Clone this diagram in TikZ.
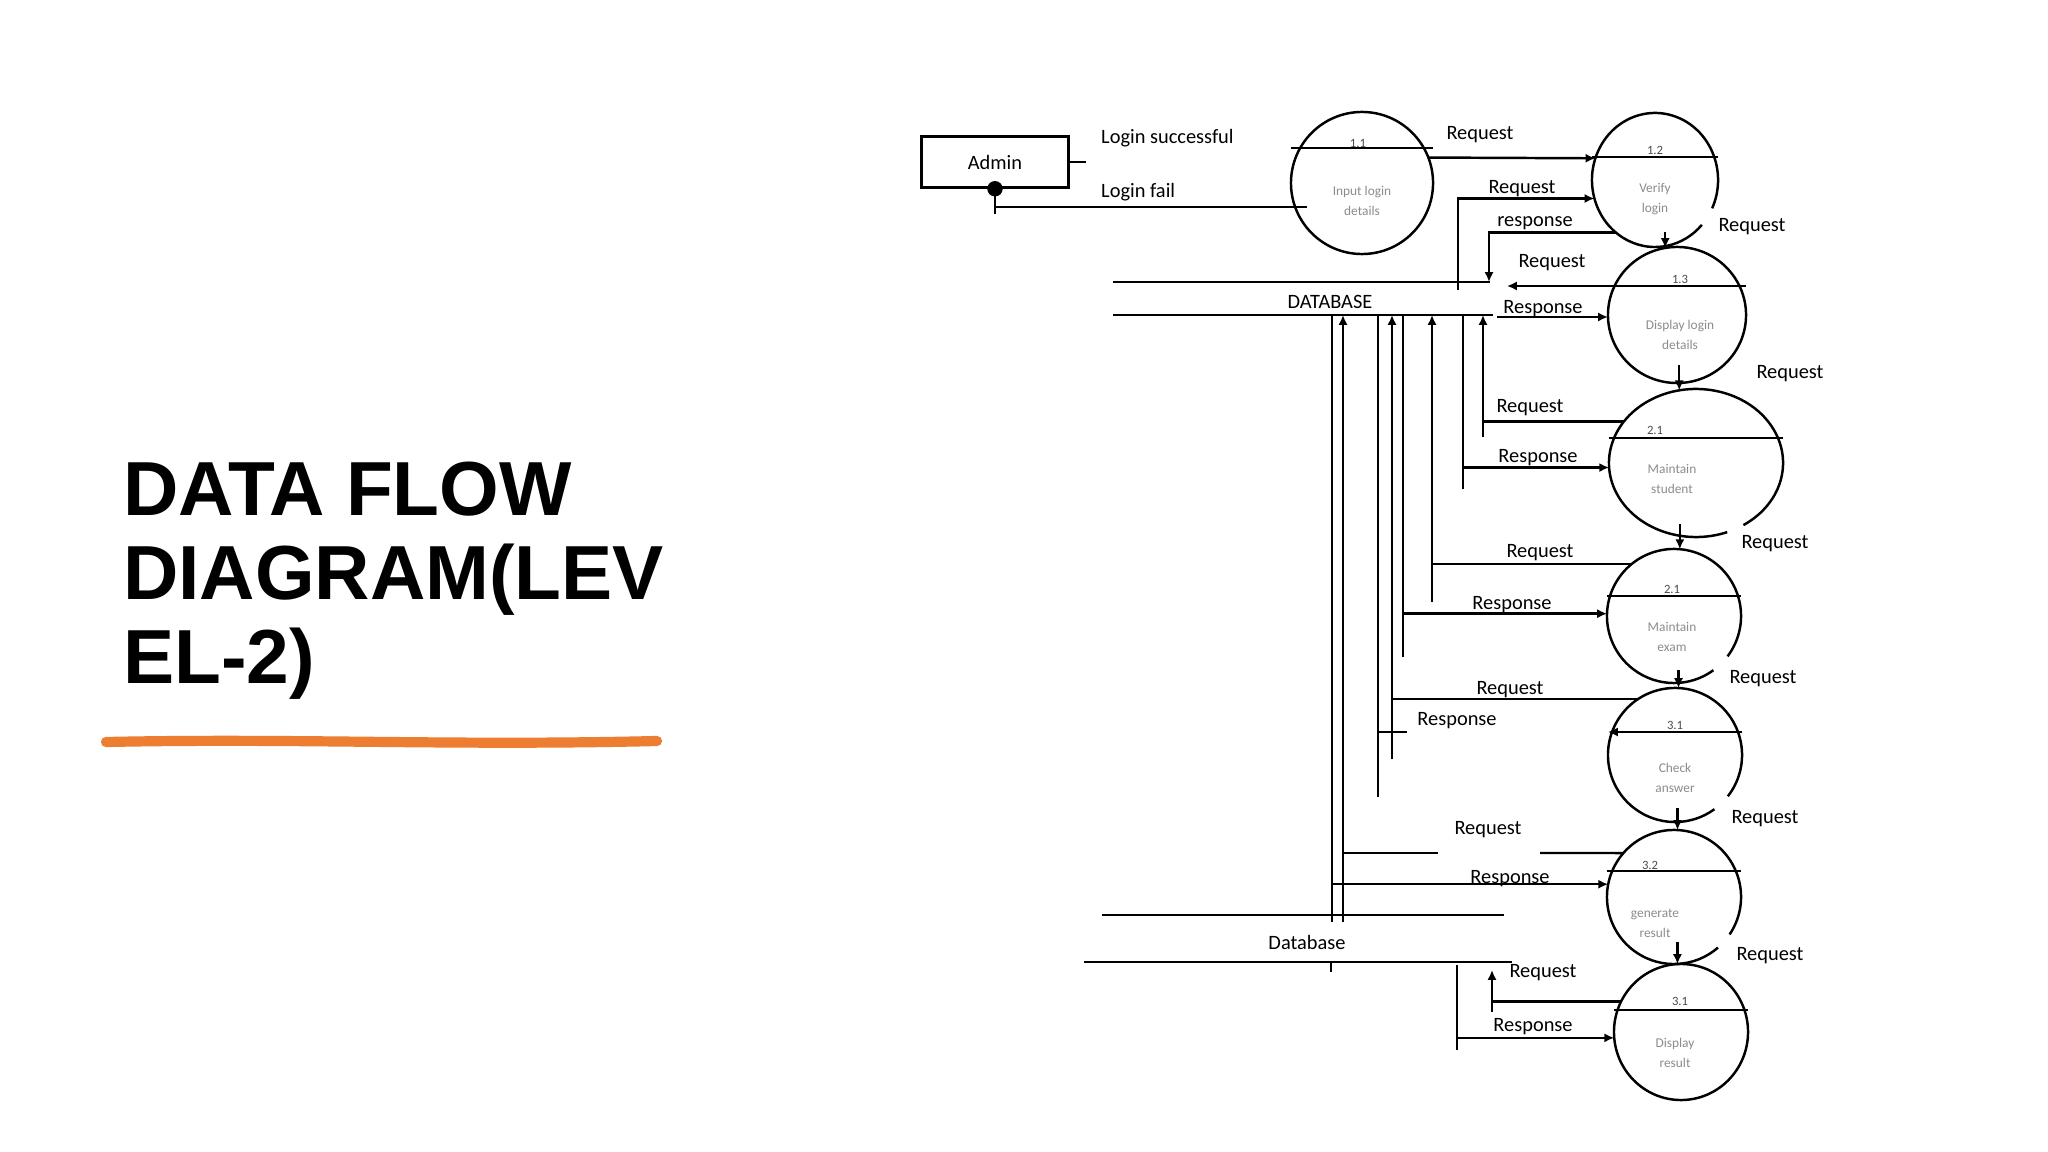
\documentclass[tikz,border=0pt]{standalone}
\usepackage{fontspec}
\setmainfont{Carlito}
\newfontfamily\titlefont{Liberation Sans}
\usetikzlibrary{arrows.meta,shapes.geometric}
\definecolor{accentorange}{HTML}{ED7D31}

\begin{document}
\begin{tikzpicture}[x=0.01cm, y=-0.01cm, line width=0.7pt,
    flow/.style={-{Latex[length=2.8pt,width=2.6pt]}},
    lbl/.style={font=\fontsize{5.8}{6.9}\selectfont, inner sep=0pt},
    proc/.style={ellipse, inner sep=0pt, outer sep=0pt},
    pnum/.style={font=\fontsize{3.6}{4.3}\selectfont, text=black!70, inner sep=0pt},
    ptext/.style={font=\fontsize{3.8}{5.7}\selectfont, text=black!45, align=center, inner sep=0pt},
    heading/.style={font=\titlefont\bfseries\fontsize{21.8}{24}\selectfont, anchor=base west, inner sep=0pt}]
  % slide page
  \fill[white] (0,0) rectangle (2048,1152);
  \useasboundingbox (0,0) rectangle (2048,1152);

  % slide title
  \node[heading] (t1) at (122,516) {DATA FLOW};
  \node[heading] (t2) at (122,600) {DIAGRAM(LEV};
  \node[heading] (t3) at (122,683) {EL-2)};
  \draw[accentorange, line width=2.9pt, line cap=round] (106,742) .. controls (300,738) and (450,746) .. (657,741);

  % external entity
  \node[draw, lbl, minimum width=1.47cm, minimum height=0.51cm] (admin) at (995,162) {Admin};
  \draw (admin.east) -- +(16,0);
  \node[lbl, anchor=west] (ls) at (1100,138) {Login successful};
  \node[lbl, anchor=west] (lfl) at (1100,192) {Login fail};

  % processes
  \node[proc, draw, minimum width=1.42cm, minimum height=1.42cm] (p11) at (1362,183) {};
  \node[proc, minimum width=1.26cm, minimum height=1.34cm] (p12) at (1655,180) {};
  \node[proc, draw, minimum width=1.38cm, minimum height=1.36cm] (p13) at (1677,315) {};
  \node[proc, minimum width=1.74cm, minimum height=1.48cm] (p21) at (1696,463) {};
  \node[proc, minimum width=1.34cm, minimum height=1.34cm] (p22) at (1674,616) {};
  \node[proc, minimum width=1.34cm, minimum height=1.34cm] (p31) at (1675,755) {};
  \node[proc, minimum width=1.34cm, minimum height=1.34cm] (p32) at (1674,897) {};
  \node[proc, draw, minimum width=1.34cm, minimum height=1.36cm] (p33) at (1681,1032) {};

  % rings that are broken at the lower right
  \draw ([shift={(-25:0.63cm and 0.67cm)}]p12.center) arc[start angle=-25, end angle=318, x radius=0.63cm, y radius=0.67cm];
  \draw ([shift={(-57:0.87cm and 0.74cm)}]p21.center) arc[start angle=-57, end angle=291, x radius=0.87cm, y radius=0.74cm];
  \draw ([shift={(-37:0.67cm)}]p22.center) arc[start angle=-37, end angle=306, radius=0.67cm];
  \draw ([shift={(-38:0.67cm)}]p31.center) arc[start angle=-38, end angle=306, radius=0.67cm];
  \draw ([shift={(-34:0.67cm)}]p32.center) arc[start angle=-34, end angle=311, radius=0.67cm];

  % dividers
  \draw (p11.west |- 0,148) -- (p11.east |- 0,148);
  \draw (p12.west |- 0,157) -- (p12.east |- 0,157);
  \draw (p13.west |- 0,286) -- (p13.east |- 0,286);
  \draw (p21.west |- 0,438) -- (p21.east |- 0,438);
  \draw (p22.west |- 0,596) -- (p22.east |- 0,596);
  \draw[{Latex[length=2.8pt,width=2.6pt]}-] (p31.west |- 0,732) -- (p31.east |- 0,732);
  \draw (p32.west |- 0,871) -- (p32.east |- 0,871);
  \draw (p33.west |- 0,1010) -- (p33.east |- 0,1010);

  % process numbers and names
  \node[pnum] (n11) at (1358,143) {1.1};
  \node[ptext] (x11) at (1362,201) {Input login\\details};
  \node[pnum] (n12) at (1655,150) {1.2};
  \node[ptext] (x12) at (1655,199) {Verify\\login};
  \node[pnum] (n13) at (1680,279) {1.3};
  \node[ptext] (x13) at (1680,335) {Display login\\details};
  \node[pnum] (n21) at (1655,430) {2.1};
  \node[ptext] (x21) at (1672,479) {Maintain\\student};
  \node[pnum] (n22) at (1672,589) {2.1};
  \node[ptext] (x22) at (1672,637) {Maintain\\exam};
  \node[pnum] (n31) at (1675,725) {3.1};
  \node[ptext] (x31) at (1675,778) {Check\\answer};
  \node[pnum] (n32) at (1650,865) {3.2};
  \node[ptext] (x32) at (1655,923) {generate\\result};
  \node[pnum] (n33) at (1680,1001) {3.1};
  \node[ptext] (x33) at (1675,1053) {Display\\result};

  % login fail back to admin
  \coordinate (lf) at (1307,207);
  \draw (lf) -| (admin.south);
  \draw (admin.south) -- +(0,25);
  \fill (admin.south) circle (2.2pt);

  % upper data store
  \draw (1113,282) -- (1490,282);
  \draw (1113,315) -- (1493,315);
  \coordinate (dbD) at (1493,315);
  \node[lbl] (db1) at (1330,302) {DATABASE};

  % login part
  \draw[flow] (p11.21) -- (p12.160);
  \node[lbl] (rq1) at (1480,135) {Request};
  \coordinate (c1) at (1458,290);
  \draw[flow] (c1) |- (p12.197);
  \node[lbl] (rq2) at (1522,189) {Request};
  \coordinate (c2) at (1489,282);
  \draw[flow] (p12.233) -| (c2);
  \node[lbl] (rs1) at (1535,223) {response};
  \node[lbl] (rq3) at (1752,227) {Request};
  \coordinate (c3) at (1507,286);
  \draw[flow] (p13.west |- c3) -- (c3);
  \node[lbl] (rq4) at (1552,263) {Request};
  \coordinate (c4) at (1497,317);
  \draw[flow] (c4) -- (c4 -| p13.west);
  \node[lbl] (rs2) at (1543,309) {Response};
  \draw[flow] ([yshift=0.16cm]p13.100) -- (p13.100);
  \node[lbl] (rq5) at (1790,374) {Request};

  % feeders from the data store
  \coordinate (e1) at (1332,922);
  \coordinate (e2) at (1343,922);
  \coordinate (e3) at (1378,797);
  \coordinate (e4) at (1392,759);
  \coordinate (e5) at (1403,657);
  \coordinate (e6) at (1432,602);
  \coordinate (e7) at (1463,489);
  \coordinate (e8) at (1483,437);

  % maintain student
  \draw[flow] ([yshift=0.25cm]p21.103) -- (p21.103);
  \draw (p21.150) -- (p21.150 -| e8);
  \draw[flow] (e8) -- (e8 |- dbD);
  \node[lbl] (rq6) at (1530,408) {Request};
  \draw (e7 |- dbD) -- (e7);
  \draw[flow] (p21.183 -| e7) -- (p21.183);
  \node[lbl] (rs3) at (1538,458) {Response};
  \node[lbl] (rq7) at (1775,544) {Request};

  % maintain exam
  \draw[flow] ([yshift=0.25cm]p22.85) -- (p22.85);
  \draw (p22.129) -- (p22.129 -| e6);
  \draw[flow] (e6) -- (e6 |- dbD);
  \node[lbl] (rq8) at (1540,553) {Request};
  \draw (e5 |- dbD) -- (e5);
  \draw[flow] (p22.178 -| e5) -- (p22.178);
  \node[lbl] (rs4) at (1512,605) {Response};
  \node[lbl] (rq9) at (1763,679) {Request};

  % check answer
  \draw[flow] ([yshift=0.18cm]p31.87) -- (p31.87);
  \draw (p31.123) -- (p31.123 -| e4);
  \draw[flow] (e4) -- (e4 |- dbD);
  \node[lbl] (rq10) at (1510,690) {Request};
  \draw (e3 |- dbD) -- (e3);
  \coordinate (r31) at (1407,732);
  \draw (r31 -| e3) -- (r31);
  \node[lbl] (rs5) at (1457,721) {Response};
  \node[lbl] (rq11) at (1765,819) {Request};

  % generate result
  \draw[flow] ([yshift=0.22cm]p32.87) -- (p32.87);
  \coordinate (g1) at (1438,853);
  \coordinate (g2) at (1540,853);
  \draw (p32.139) -- (g2);
  \draw (g1) -- (g1 -| e2);
  \draw[flow] (e2) -- (e2 |- dbD);
  \node[lbl] (rq12) at (1488,830) {Request};
  \draw (e1 |- dbD) -- (e1);
  \draw[flow] (p32.169 -| e1) -- (p32.169);
  \node[lbl] (rs6) at (1510,879) {Response};
  \node[lbl] (rq13) at (1770,956) {Request};

  % lower data store and display result
  \draw[flow] ([yshift=0.22cm]p33.93) -- (p33.93);
  \draw (1102,915) -- (1504,915);
  \draw (1084,962) -- (1512,962);
  \draw (1331,962) -- (1331,972);
  \node[lbl] (db2) at (1307,942) {Database};
  \coordinate (f1) at (1492,1012);
  \coordinate (f1t) at (1492,970);
  \draw (p33.153) -- (p33.153 -| f1);
  \draw[flow] (f1) -- (f1t);
  \node[lbl] (rq14) at (1543,973) {Request};
  \coordinate (f2t) at (1457,965);
  \coordinate (f2) at (1457,1050);
  \draw (f2t) -- (f2);
  \draw[flow] (p33.185 -| f2) -- (p33.185);
  \node[lbl] (rs7) at (1533,1027) {Response};
\end{tikzpicture}
\end{document}
